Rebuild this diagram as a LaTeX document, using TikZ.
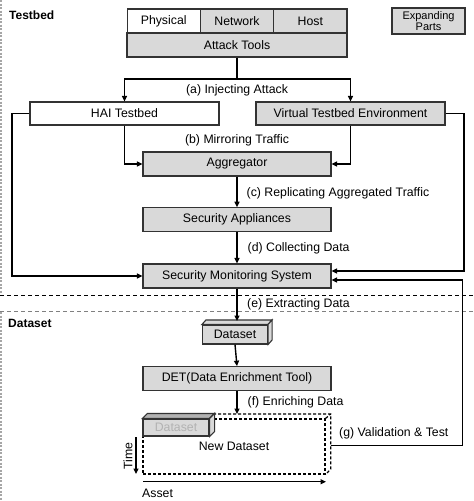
\documentclass[tikz,border=0pt]{standalone}
\usepackage{fontspec}
\setmainfont{Liberation Sans}
\usetikzlibrary{arrows.meta,calc}
\definecolor{boxgray}{HTML}{D9D9D9}
\definecolor{edgec}{HTML}{333333}
\begin{document}
\begin{tikzpicture}[x=1pt,y=-1pt,
  every node/.style={font=\fontsize{12.3}{14}\selectfont, inner sep=0pt},
  box/.style={draw=edgec, line width=1.1pt, minimum height=24pt, text=black},
  gbox/.style={box, fill=boxgray},
  wbox/.style={box, fill=white},
  conn/.style={line width=1.4pt, black},
  arr/.style={conn, -{Triangle[length=5.5pt,width=5pt]}},
  face/.style={draw=edgec, line width=1.1pt, fill=boxgray},
  lbl/.style={anchor=west},
  title/.style={font=\fontsize{12}{14}\selectfont\bfseries, anchor=west},
  dashedge/.style={black, line width=1.2pt, dash pattern=on 3pt off 2pt}]
\useasboundingbox (0,0) rectangle (474,501);

% frames
\draw[gray!70, line width=2pt, dash pattern=on 2pt off 1.5pt] (1,0) -- (1,293);
\draw[gray!70, line width=2pt, dash pattern=on 2pt off 1.5pt] (1,312) -- (1,501);
\draw[black, line width=1.1pt, dash pattern=on 4pt off 3pt] (0,295.7) -- (474,295.7);
\draw[gray, line width=1pt, dash pattern=on 4pt off 3pt] (0,311.5) -- (474,311.5);
\node[title] (tb) at (9,15) {Testbed};
\node[title] (dsl) at (8,323) {Dataset};

% boxes
\node[wbox, minimum width=73.3pt] (phys) at (163.7,21) {Physical};
\node[gbox, minimum width=73.3pt] (net) at (237,21) {Network};
\node[gbox, minimum width=73.3pt] (host) at (310.3,21) {Host};
\node[gbox, minimum width=220pt] (attack) at (237,45) {Attack Tools};
\node[gbox, minimum width=73pt, minimum height=26pt, align=center, font=\fontsize{11}{11.5}\selectfont] (exp) at (428.5,21) {Expanding\\Parts};
\node[wbox, minimum width=189pt, minimum height=23pt] (hai) at (124.5,113.5) {HAI Testbed};
\node[gbox, minimum width=189pt, minimum height=23pt] (vte) at (350.5,113.5) {Virtual Testbed Environment};
\node[gbox, minimum width=188pt] (agg) at (237,164) {Aggregator};
\node[gbox, minimum width=188pt] (sa) at (237,219.7) {Security Appliances};
\node[gbox, minimum width=188pt] (sms) at (237,276) {Security Monitoring System};
\node[gbox, minimum width=188pt] (det) at (237,378.7) {DET(Data Enrichment Tool)};

% dataset 3D box
\node[gbox, minimum width=65pt, minimum height=19pt] (ds) at (235,334.5) {Dataset};
\filldraw[face] (ds.north west) -- ++(4,-4.5) -- ($(ds.north east)+(4,-4.5)$) -- (ds.north east) -- cycle;
\filldraw[face] (ds.north east) -- ++(4,-4.5) -- ($(ds.south east)+(4,-4.5)$) -- (ds.south east) -- cycle;

% new dataset
\node[draw=black, dashedge, minimum width=182pt, minimum height=55pt] (nd) at (234,446.5) {New Dataset};
\draw[dashedge] (148,414) -- (330.7,414) -- (330.7,469) -- (nd.south east);
\draw[dashedge] (nd.north east) -- (330.7,414);
\node[gbox, minimum width=66pt, minimum height=17pt, text=gray!60] (ds2) at (176,427.5) {Dataset};
\filldraw[face, fill=gray!60] (ds2.north west) -- ++(5,-5) -- ($(ds2.north east)+(5,-5)$) -- (ds2.north east) -- cycle;
\filldraw[face] (ds2.north east) -- ++(5,-5) -- ($(ds2.south east)+(5,-5)$) -- (ds2.south east) -- cycle;

% axes
\coordinate (t1) at (136,437);
\coordinate (t2) at (136,474);
\draw[arr, line width=1.1pt] (t1) -- (t2);
\node[rotate=90] (time) at (128,456) {Time};
\coordinate (a1) at (143,481.7);
\coordinate (a2) at (326,481.7);
\draw[arr, line width=1.1pt] (a1) -- (a2);
\node[anchor=west] (asset) at (142,493) {Asset};

% connectors
\coordinate (split) at (237,79);
\draw[conn] (attack.south) -- (split);
\draw[arr] (split) -| (hai.north);
\draw[arr] (split) -| (vte.north);
\node (la) at (237,90) {(a) Injecting Attack};
\draw[arr] (hai.south) |- (agg.west);
\draw[arr] (vte.south) |- (agg.east);
\node (lb) at (237,140.7) {(b) Mirroring Traffic};
\draw[arr] (agg.south) -- (sa.north);
\node[lbl] (lc) at (246.5,193.3) {(c) Replicating Aggregated Traffic};
\draw[arr] (sa.south) -- (sms.north);
\node[lbl] (ld) at (247.5,248.3) {(d) Collecting Data};
\draw[arr] (hai.west) -- (12,113.5) |- (sms.west);
\draw[arr] (vte.east) -- (464,113.5) |- ([yshift=5pt]sms.east);
\coordinate (dstop) at (237,321);
\draw[arr] (sms.south) -- (dstop);
\node[lbl] (le) at (247,304) {(e) Extracting Data};
\draw[arr] (ds.south) -- (det.north);
\coordinate (ndtop) at (237,414);
\draw[arr] (det.south) -- (ndtop);
\node[lbl] (lf) at (247.5,402) {(f) Enriching Data};
\coordinate (gstart) at (330.7,445.7);
\draw[arr] (gstart) -- (462.5,445.7) |- ([yshift=-4pt]sms.east);
\node[lbl] (lg) at (339,433.3) {(g) Validation \& Test};
\end{tikzpicture}
\end{document}
